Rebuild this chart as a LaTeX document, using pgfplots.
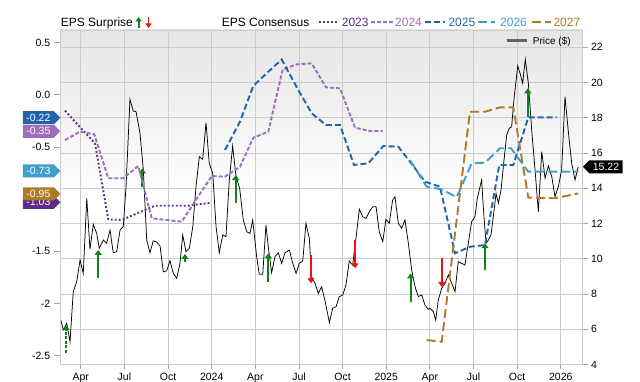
\documentclass[border=0pt]{standalone}
\usepackage{fontspec}
\setmainfont{Liberation Sans}
\usepackage{pgfplots}
\pgfplotsset{compat=1.18}
\usetikzlibrary{arrows.meta,shapes.symbols}
\definecolor{c2023}{RGB}{92,45,135}
\definecolor{c2024}{RGB}{158,110,186}
\definecolor{c2025}{RGB}{33,100,172}
\definecolor{c2026}{RGB}{62,158,206}
\definecolor{c2027}{RGB}{174,122,42}
\definecolor{cgreen}{RGB}{16,130,24}
\definecolor{cred}{RGB}{235,20,20}
\definecolor{cgrid}{RGB}{204,204,204}
\definecolor{cpricelegend}{RGB}{100,100,100}
\tikzset{
  tagL/.style={signal, signal to=east, signal pointer angle=90, text=white,
    font=\fontsize{10.5}{12}\selectfont, inner xsep=3.5pt, inner ysep=0pt,
    minimum height=13pt, anchor=east},
  tagR/.style={signal, signal to=west, signal pointer angle=90, text=white,
    font=\fontsize{10.5}{12}\selectfont, inner xsep=3.5pt, inner ysep=0pt,
    minimum height=13pt, anchor=west},
}
\pgfplotstableread{
m p
1.618 6.56
1.797 5.96
2.03 6.34
2.26 5.29
2.48 8.13
2.72 8.70
2.95 9.93
3.17 9.17
3.41 13.43
3.63 10.54
3.86 11.95
4.09 11.44
4.27 10.59
4.55 11.06
4.78 10.88
5.01 11.63
5.23 10.34
5.47 10.40
5.70 11.63
5.92 11.82
6.11 14.09
6.38 19.05
6.61 18.38
6.80 18.34
7.07 17.12
7.30 15.04
7.53 11.06
7.76 10.34
7.98 11.02
8.22 10.95
8.45 10.72
8.67 9.26
8.91 9.32
9.13 9.89
9.36 9.17
9.59 8.89
9.82 9.74
10.01 11.35
10.23 10.40
10.46 10.59
10.70 11.82
10.92 14.09
11.15 15.79
11.38 15.64
11.61 17.72
11.83 15.42
12.07 14.85
12.30 11.82
12.52 10.34
12.76 11.35
12.98 11.25
13.21 14.47
13.44 16.40
13.67 14.66
13.92 14.00
14.17 12.20
14.41 11.53
14.63 11.44
14.82 12.20
15.09 10.12
15.27 9.12
15.51 9.12
15.73 11.91
15.89 10.68
16.12 9.21
16.35 10.12
16.58 10.34
16.81 9.74
17.04 10.34
17.34 10.50
17.57 9.74
17.80 9.17
18.02 9.74
18.26 9.87
18.48 12.01
18.71 11.16
18.87 8.98
19.10 8.61
19.33 8.04
19.56 8.41
19.79 7.62
20.09 6.37
20.32 7.19
20.55 7.28
20.77 7.85
21.01 7.94
21.23 8.51
21.46 9.87
21.69 9.64
21.92 11.16
22.15 12.81
22.38 12.39
22.61 12.29
22.84 12.67
23.07 12.95
23.30 12.95
23.52 11.53
23.76 10.97
23.98 12.24
24.21 12.01
24.44 13.33
24.60 13.52
24.83 12.01
25.06 11.73
25.29 12.20
25.52 10.88
25.75 9.36
25.98 8.41
26.20 7.85
26.44 7.94
26.66 7.37
26.89 7.13
27.01 7.19
27.24 7.00
27.40 6.52
27.58 7.66
27.81 8.32
28.04 8.61
28.27 9.08
28.50 8.61
28.73 8.13
28.95 9.83
29.19 9.74
29.41 9.64
29.64 10.88
29.87 12.10
30.10 12.39
30.26 13.43
30.56 14.47
30.67 12.95
30.86 10.88
31.02 11.06
31.20 11.35
31.36 12.39
31.55 13.71
31.71 13.15
31.89 13.90
32.05 15.22
32.28 17.02
32.46 17.40
32.62 17.49
32.80 19.20
33.04 20.94
33.20 20.52
33.38 19.96
33.56 21.32
33.77 19.96
34.00 17.31
34.23 15.04
34.46 12.67
34.69 16.08
34.92 14.57
35.15 15.27
35.38 14.66
35.60 13.52
35.83 14.09
36.06 15.04
36.29 19.20
36.52 17.21
36.75 15.42
36.98 14.47
37.20 15.22
}\pricedata
\pgfplotstableread{
m y v
4.20 8.89 1.61
7.23 14.09 1.04
10.16 9.83 0.44
13.65 13.15 1.60
15.89 8.70 1.61
25.68 7.56 1.61
30.79 9.36 1.52
33.73 18.06 1.61
}\greenarrows
\pgfplotstableread{
m y v
1.98 4.67 1.57
}\greendashed
\pgfplotstableread{
m y v
18.83 10.21 -1.60
21.85 11.06 -1.60
27.81 10.02 -1.61
}\redarrows
\pgfplotstableread{
m e
1.914 -0.153
3.976 -0.466
4.891 -1.194
5.812 -1.200
8.101 -1.063
10.391 -1.063
11.952 -1.034
}\epsA
\pgfplotstableread{
m e
1.914 -0.434
2.945 -0.354
3.928 -0.379
4.891 -0.800
5.922 -0.800
6.953 -0.683
7.875 -1.184
9.937 -1.216
11.999 -0.779
12.914 -0.785
13.945 -0.690
14.860 -0.412
15.891 -0.354
16.881 0.243
17.844 0.291
18.875 0.300
19.858 0.071
20.821 0.061
21.852 -0.316
22.883 -0.348
23.756 -0.348
}\epsB
\pgfplotstableread{
m e
12.914 -0.530
13.945 -0.258
14.860 0.085
15.891 0.220
16.812 0.337
17.953 0.045
18.875 -0.178
19.858 -0.290
20.821 -0.290
21.783 -0.673
22.766 -0.657
23.797 -0.491
24.828 -0.498
25.860 -0.683
26.664 -0.833
27.695 -0.881
28.727 -1.519
29.758 -1.456
30.789 -1.440
31.773 -0.673
32.735 -0.673
33.766 -0.217
35.718 -0.217
}\epsC
\pgfplotstableread{
m e
25.633 -0.625
26.781 -0.881
27.812 -0.906
28.844 -0.982
29.875 -0.657
30.789 -0.651
31.820 -0.513
32.577 -0.513
33.766 -0.737
37.204 -0.737
}\epsD
\pgfplotstableread{
m e
26.781 -2.350
27.812 -2.366
29.758 -0.163
30.789 -0.163
31.820 -0.121
32.735 -0.121
33.766 -0.985
35.601 -0.992
37.204 -0.945
}\epsE
\begin{document}
\begin{tikzpicture}
\useasboundingbox (0,0) rectangle (640pt,382pt);
% ---------------- price axis (right) ----------------
\begin{axis}[
  at={(60.7pt,17.5pt)}, anchor=south west, scale only axis,
  width=521.9pt, height=334.5pt,
  xmin=1.618, xmax=37.5, ymin=4, ymax=22.98,
  xtick={3,6,...,36},
  xticklabels={Apr,Jul,Oct,2024,Apr,Jul,Oct,2025,Apr,Jul,Oct,2026},
  ytick={4,6,...,22},
  yticklabel pos=right, ytick pos=right, xtick pos=bottom,
  xmajorgrids, ymajorgrids,
  grid style={cgrid, line width=0.9pt},
  axis line style={cgrid, line width=0.9pt},
  tick style={cgrid!80!black, line width=0.8pt},
  tick align=outside, major tick length=5pt,
  tick label style={font=\fontsize{10.5}{12}\selectfont, black},
  /pgf/number format/assume math mode=true,
  axis background/.style={top color=black!10, bottom color=white, middle color=white},
  clip=false,
]
\addplot[black, line width=0.75pt] table[x=m, y=p] {\pricedata};
\addplot[cgreen, line width=1.8pt, -{Triangle[width=7pt,length=5pt]},
  quiver={u=0, v=\thisrow{v}}] table[x=m, y=y] {\greenarrows};
\addplot[cgreen, line width=1.8pt, dash pattern=on 3pt off 1.5pt, -{Triangle[width=7pt,length=5pt]},
  quiver={u=0, v=\thisrow{v}}] table[x=m, y=y] {\greendashed};
\addplot[cred, line width=1.8pt, -{Triangle[width=7pt,length=5pt]},
  quiver={u=0, v=\thisrow{v}}] table[x=m, y=y] {\redarrows};
\addplot[draw=none, nodes near coords={15.22},
  every node near coord/.append style={tagR, fill=black}] coordinates {(37.5,15.22)};
\end{axis}
% ---------------- EPS axis (left) ----------------
\begin{axis}[
  at={(60.7pt,17.5pt)}, anchor=south west, scale only axis,
  width=521.9pt, height=334.5pt,
  xmin=1.618, xmax=37.5, ymin=-2.584, ymax=0.62,
  axis x line=none, axis y line*=left,
  ytick={0.5,0,-0.5,-1.5,-2,-2.5},
  yticklabels={0.5,0.0,-0.5,-1.5,-2,-2.5},
  axis line style={cgrid, line width=0.9pt},
  tick style={cgrid!80!black, line width=0.8pt},
  tick align=outside, major tick length=7pt,
  tick label style={font=\fontsize{10.5}{12}\selectfont, black},
  clip=false,
]
\addplot[c2023, line width=1.9pt, dash pattern=on 1.9pt off 2.1pt] table[x=m, y=e] {\epsA};
\addplot[c2024, line width=1.9pt, dash pattern=on 4pt off 2pt] table[x=m, y=e] {\epsB};
\addplot[c2025, line width=1.9pt, dash pattern=on 6pt off 3pt] table[x=m, y=e] {\epsC};
\addplot[c2026, line width=1.9pt, dash pattern=on 9pt off 4pt] table[x=m, y=e] {\epsD};
\addplot[c2027, line width=1.9pt, dash pattern=on 9pt off 4pt] table[x=m, y=e] {\epsE};
\addplot[draw=none, nodes near coords={-1.03},
  every node near coord/.append style={tagL, fill=c2023}] coordinates {(1.618,-1.03)};
\addplot[draw=none, nodes near coords={-0.95},
  every node near coord/.append style={tagL, fill=c2027}] coordinates {(1.618,-0.95)};
\addplot[draw=none, nodes near coords={-0.73},
  every node near coord/.append style={tagL, fill=c2026}] coordinates {(1.618,-0.73)};
\addplot[draw=none, nodes near coords={-0.35},
  every node near coord/.append style={tagL, fill=c2024}] coordinates {(1.618,-0.35)};
\addplot[draw=none, nodes near coords={-0.22},
  every node near coord/.append style={tagL, fill=c2025}] coordinates {(1.618,-0.22)};
\end{axis}
% ---------------- header legend ----------------
\begin{scope}[font=\fontsize{12}{14}\selectfont]
\node[anchor=base west, inner sep=0pt] at (60.7pt,355.7pt) {EPS Surprise};
\draw[cgreen, line width=1.6pt, -{Triangle[width=6pt,length=4.5pt]}] (138.7pt,354pt) -- (138.7pt,365pt);
\draw[cred, line width=1.6pt, -{Triangle[width=6pt,length=4.5pt]}] (148.5pt,365pt) -- (148.5pt,354pt);
\node[anchor=base west, inner sep=0pt] at (221.7pt,355.7pt) {EPS Consensus};
\draw[c2023, line width=1.9pt, dash pattern=on 1.9pt off 2.1pt] (319.3pt,360pt) -- (338.3pt,360pt);
\node[anchor=base west, inner sep=0pt, text=c2023] at (341.7pt,355.7pt) {2023};
\draw[c2024, line width=1.9pt, dash pattern=on 4pt off 2pt] (371pt,360pt) -- (393.3pt,360pt);
\node[anchor=base west, inner sep=0pt, text=c2024] at (395pt,355.7pt) {2024};
\draw[c2025, line width=1.9pt, dash pattern=on 6pt off 3pt] (425pt,360pt) -- (445pt,360pt);
\node[anchor=base west, inner sep=0pt, text=c2025] at (448.3pt,355.7pt) {2025};
\draw[c2026, line width=1.9pt, dash pattern=on 9pt off 4pt] (478.3pt,360pt) -- (495pt,360pt);
\node[anchor=base west, inner sep=0pt, text=c2026] at (500pt,355.7pt) {2026};
\draw[c2027, line width=1.9pt, dash pattern=on 9pt off 4pt] (531.7pt,360pt) -- (550.7pt,360pt);
\node[anchor=base west, inner sep=0pt, text=c2027] at (553.3pt,355.7pt) {2027};
\end{scope}
\draw[cpricelegend, line width=2.5pt] (506.7pt,341.3pt) -- (526.7pt,341.3pt);
\node[anchor=base west, inner sep=0pt, font=\fontsize{10}{12}\selectfont] at (532.7pt,337.5pt) {Price (\$)};
\end{tikzpicture}
\end{document}
